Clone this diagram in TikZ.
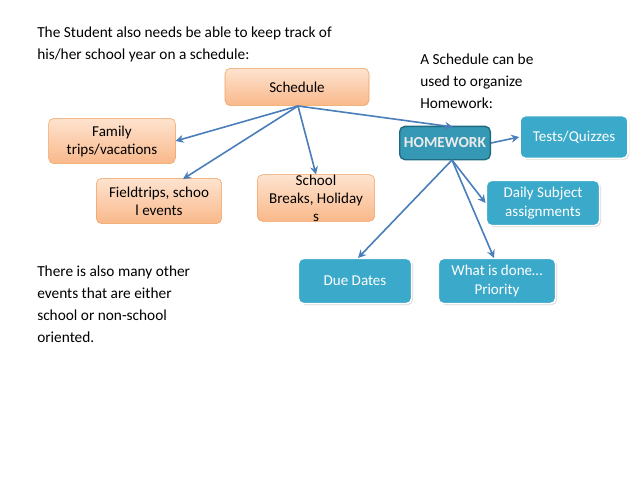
\documentclass[tikz,border=0pt]{standalone}
\usepackage{fontspec}
\setmainfont{Carlito}
\usetikzlibrary{arrows.meta,shadows}
\definecolor{orb}{HTML}{F0A060}
\definecolor{orf1}{HTML}{FEE3CF}
\definecolor{orf2}{HTML}{F9B88A}
\definecolor{tl}{HTML}{3BA9C9}
\definecolor{tld}{HTML}{1F6A7E}
\definecolor{arr}{HTML}{4A7EBB}
\tikzset{
 obox/.style={draw=orb,rounded corners=4pt,top color=orf1,bottom color=orf2,align=center,font=\fontsize{11.3}{13.5}\selectfont,inner sep=0pt},
 tbox/.style={draw=white,line width=1.2pt,rounded corners=4pt,fill=tl,text=white,align=center,font=\fontsize{11.3}{14}\selectfont,inner sep=0pt,drop shadow={opacity=0.3,shadow xshift=1pt,shadow yshift=-1pt}},
 conn/.style={draw=arr,line width=1.2pt,-{Stealth[length=6pt,width=6pt]}},
 txt/.style={anchor=north west,align=left,font=\fontsize{11.5}{16.5}\selectfont,inner sep=0pt}
}
\begin{document}
\begin{tikzpicture}[x=0.75pt,y=-0.75pt]
\useasboundingbox[fill=white] (0,0) rectangle (638,478);
\node[txt] (t1) at (37,27) {The Student also needs be able to keep track of\\his/her school year on a schedule:};
\node[txt] (t2) at (420,54) {A Schedule can be\\used to organize\\Homework:};
\node[txt] (t3) at (37,266) {There is also many other\\events that are either\\school or non-school\\oriented.};
\node[obox,minimum width=108pt,minimum height=28pt] (s) at (297,87) {Schedule};
\node[obox,minimum width=95pt,minimum height=34pt] (f) at (112,141) {Family\\trips/vacations};
\node[obox,minimum width=94pt,minimum height=34pt] (ft) at (159,201) {Fieldtrips, schoo\\l events};
\node[obox,minimum width=88pt,minimum height=35pt] (sb) at (316,198) {School\\Breaks, Holiday\\s};
\node[draw=tld,line width=1pt,rounded corners=4pt,fill=tl!90!black,text=white!92!black,minimum width=68pt,minimum height=25pt,inner sep=0pt,font=\fontsize{11.5}{13}\selectfont\bfseries] (h) at (445,143) {HOMEWORK};
\node[tbox,minimum width=81pt,minimum height=32pt] (tq) at (574,137) {Tests/Quizzes};
\node[tbox,minimum width=85pt,minimum height=34pt] (d) at (543,203) {Daily Subject\\assignments};
\node[tbox,minimum width=85pt,minimum height=34pt] (dd) at (355,281) {Due Dates};
\node[tbox,minimum width=88pt,minimum height=34pt] (w) at (497,281) {What is done…\\Priority};
\coordinate (sb0) at (298,106);
\coordinate (hb0) at (452,160);
\draw[conn] (sb0) -- (f.east);
\draw[conn] (sb0) -- (183,179);
\draw[conn] (sb0) -- (sb.north);
\draw[conn] (sb0) -- (453,127);
\draw[conn] (h.east) -- (tq.west);
\draw[conn] (hb0) -- (358,258);
\draw[conn] (hb0) -- (494,258);
\draw[conn] (hb0) -- (d.west);
\end{tikzpicture}
\end{document}
